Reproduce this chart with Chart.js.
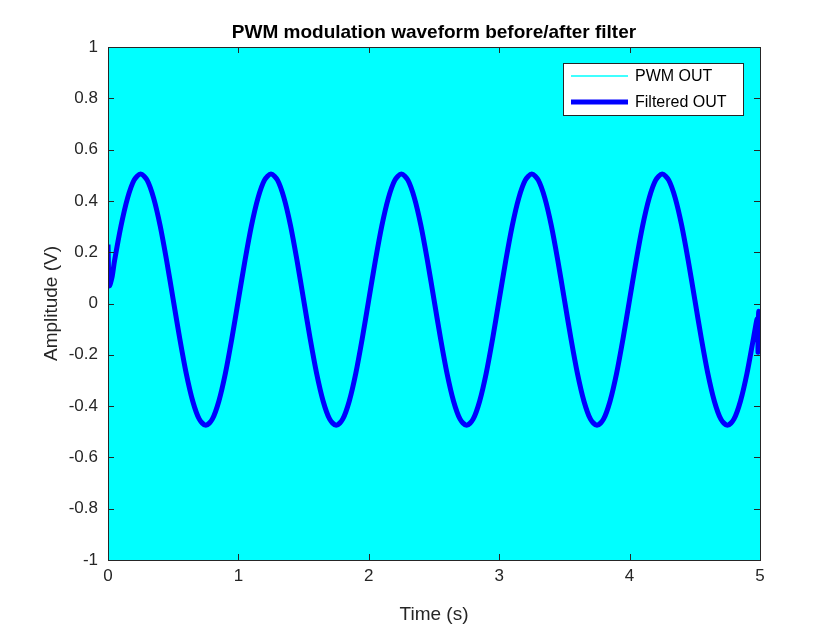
<!DOCTYPE html>
<html><head><meta charset="utf-8">
<script src="https://cdn.jsdelivr.net/npm/chart.js@4"></script>
<style>html,body{margin:0;background:#fff}#w{width:840px;height:630px}</style>
</head><body><div id="w"><canvas id="c"></canvas></div>
<script>
const xTicks = [0,1,2,3,4,5];
const yTicks = [-1,-0.8,-0.6,-0.4,-0.2,0,0.2,0.4,0.6,0.8,1];
const pwmTime = [0, 5];
const pwmHigh = [1, 1];
const pwmLow = [-1, -1];
const filtTime = [0,0.01,0.03,0.05,0.1,0.15,0.2,0.25,0.3,0.35,0.4,0.45,0.5,0.55,0.6,0.65,0.7,0.75,0.8,0.85,0.9,0.95,
 1,1.05,1.1,1.15,1.2,1.25,1.3,1.35,1.4,1.45,1.5,1.55,1.6,1.65,1.7,1.75,1.8,1.85,1.9,1.95,
 2,2.05,2.1,2.15,2.2,2.25,2.3,2.35,2.4,2.45,2.5,2.55,2.6,2.65,2.7,2.75,2.8,2.85,2.9,2.95,
 3,3.05,3.1,3.15,3.2,3.25,3.3,3.35,3.4,3.45,3.5,3.55,3.6,3.65,3.7,3.75,3.8,3.85,3.9,3.95,
 4,4.05,4.1,4.15,4.2,4.25,4.3,4.35,4.4,4.45,4.5,4.55,4.6,4.65,4.7,4.75,4.8,4.85,4.9,4.95,4.98,4.985,4.99,5];
const filtOut = [0.23,0.07,0.10,0.166,0.303,0.411,0.481,0.505,0.481,0.411,0.303,0.166,0.015,-0.136,-0.273,-0.381,-0.451,-0.475,-0.451,-0.381,-0.273,-0.136,
 0.015,0.166,0.303,0.411,0.481,0.505,0.481,0.411,0.303,0.166,0.015,-0.136,-0.273,-0.381,-0.451,-0.475,-0.451,-0.381,-0.273,-0.136,
 0.015,0.166,0.303,0.411,0.481,0.505,0.481,0.411,0.303,0.166,0.015,-0.136,-0.273,-0.381,-0.451,-0.475,-0.451,-0.381,-0.273,-0.136,
 0.015,0.166,0.303,0.411,0.481,0.505,0.481,0.411,0.303,0.166,0.015,-0.136,-0.273,-0.381,-0.451,-0.475,-0.451,-0.381,-0.273,-0.136,
 0.015,0.166,0.303,0.411,0.481,0.505,0.481,0.411,0.303,0.166,0.015,-0.136,-0.273,-0.381,-0.451,-0.475,-0.451,-0.381,-0.273,-0.136,-0.06,-0.19,-0.03,-0.19];
const FONT = "'Liberation Sans', Arial, sans-serif";
const pts = (xs, ys) => xs.map((x,i)=>({x, y: ys[i]}));

const deco = {
  id:'deco',
  afterDraw(ch){
    const c = ch.ctx, a = ch.chartArea;
    c.save();
    c.strokeStyle='#262626'; c.lineWidth=1;
    c.strokeRect(a.left+0.5,a.top+0.5,a.right-a.left,a.bottom-a.top);
    const xs = ch.scales.x, ys = ch.scales.y;
    c.beginPath();
    xTicks.forEach(v=>{const p=Math.round(xs.getPixelForValue(v))+0.5;c.moveTo(p,a.bottom);c.lineTo(p,a.bottom-6);c.moveTo(p,a.top);c.lineTo(p,a.top+6);});
    yTicks.forEach(v=>{const p=Math.round(ys.getPixelForValue(v))+0.5;c.moveTo(a.left,p);c.lineTo(a.left+6,p);c.moveTo(a.right,p);c.lineTo(a.right-6,p);});
    c.stroke();
    c.fillStyle='#000'; c.font='bold 19px '+FONT; c.textAlign='center'; c.textBaseline='alphabetic';
    c.fillText('PWM modulation waveform before/after filter',(a.left+a.right)/2,38);
    c.fillStyle='#fff'; c.fillRect(563,63,180,52);
    c.strokeStyle='#262626'; c.lineWidth=1; c.strokeRect(563.5,63.5,180,52);
    c.strokeStyle='#00ffff'; c.lineWidth=1.5; c.beginPath(); c.moveTo(571,76); c.lineTo(628,76); c.stroke();
    c.strokeStyle='#0000ff'; c.lineWidth=5; c.beginPath(); c.moveTo(571,102); c.lineTo(628,102); c.stroke();
    c.fillStyle='#000'; c.font='16px '+FONT; c.textAlign='left'; c.textBaseline='middle';
    c.fillText('PWM OUT',635,77); c.fillText('Filtered OUT',635,103);
    c.restore();
  }
};

new Chart(document.getElementById('c'),{
  type:'line',
  data:{datasets:[
    {label:'low',order:3,data:pts(pwmTime,pwmLow),borderColor:'#00ffff',borderWidth:1,pointRadius:0,fill:false},
    {label:'PWM OUT',order:2,data:pts(pwmTime,pwmHigh),borderColor:'#00ffff',backgroundColor:'#00ffff',borderWidth:1,pointRadius:0,fill:0},
    {label:'Filtered OUT',order:0,data:pts(filtTime,filtOut),borderColor:'#0000ff',borderWidth:5,pointRadius:0,tension:0.3,fill:false}
  ]},
  plugins:[deco],
  options:{
    responsive:true,maintainAspectRatio:false,animation:false,
    layout:{padding:{top:47,right:80,left:36,bottom:0}},
    plugins:{legend:{display:false},tooltip:{enabled:false},title:{display:false},filler:{drawTime:'beforeDatasetsDraw'}},
    scales:{
      x:{type:'linear',min:0,max:5,
        afterFit:s=>{s.height=70;},
        afterBuildTicks:s=>{s.ticks=xTicks.map(v=>({value:v}));},
        grid:{display:false,drawTicks:false},border:{display:false},
        ticks:{color:'#262626',font:{family:FONT,size:17},padding:6},
        title:{display:true,text:'Time (s)',color:'#262626',font:{family:FONT,size:19},padding:{top:0}}},
      y:{type:'linear',min:-1,max:1,
        afterFit:s=>{s.width=72;},
        afterBuildTicks:s=>{s.ticks=yTicks.map(v=>({value:v}));},
        grid:{display:false,drawTicks:false},border:{display:false},
        ticks:{color:'#262626',font:{family:FONT,size:17},padding:10,callback:v=>String(Math.round(v*10)/10)},
        title:{display:true,text:'Amplitude (V)',color:'#262626',font:{family:FONT,size:19},padding:{bottom:4}}}
    }
  }
});
</script></body></html>
